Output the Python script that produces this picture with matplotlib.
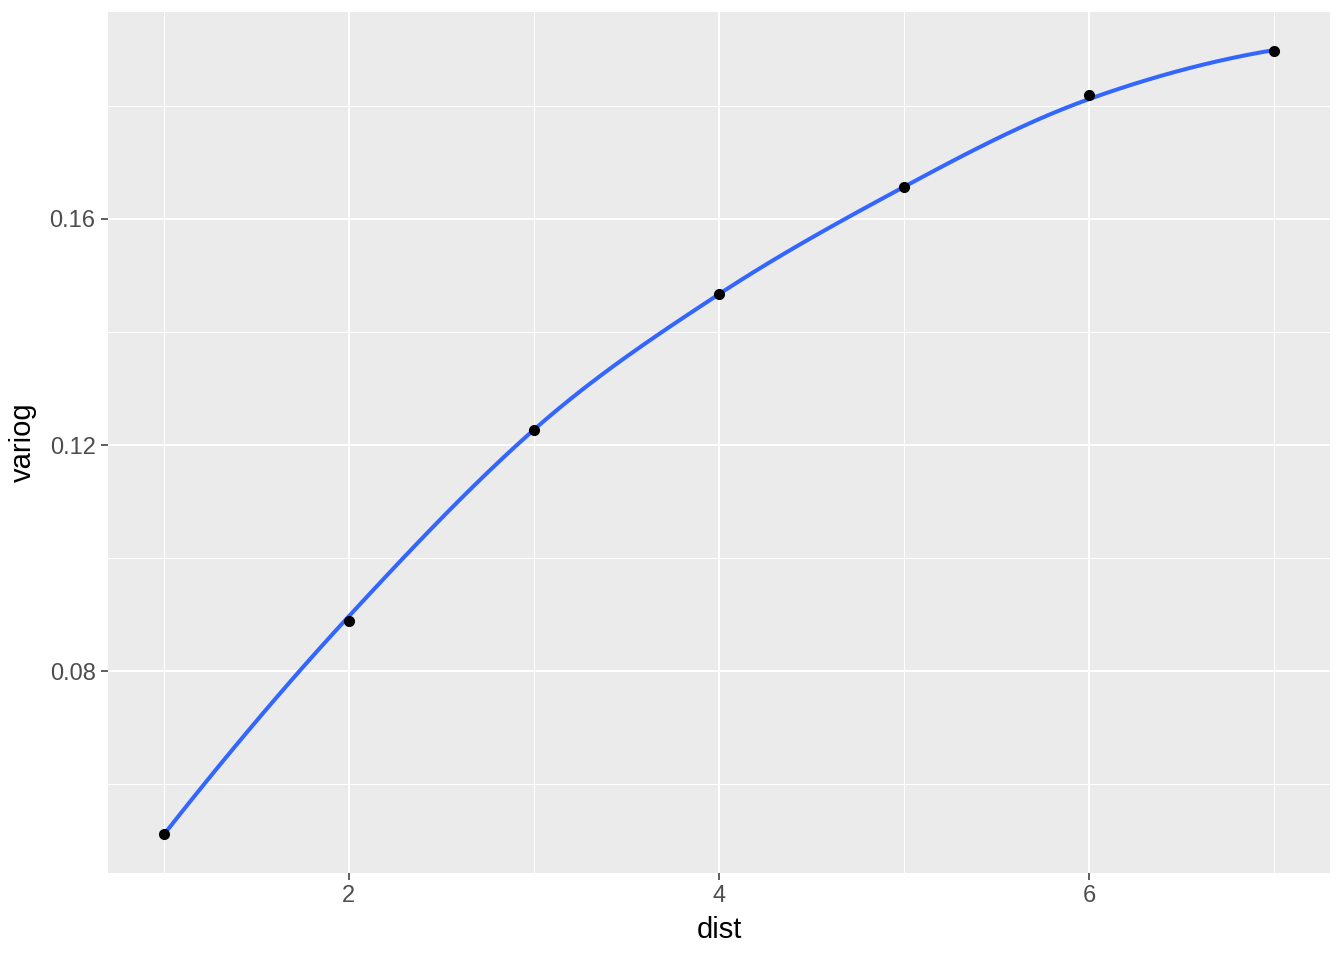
import matplotlib.pyplot as plt
import numpy as np

##### data
dist = np.array([1, 2, 3, 4, 5, 6, 7])
variog = np.array([0.0512, 0.0889, 0.1227, 0.1467, 0.1657, 0.1820, 0.1897])

x_major = [2, 4, 6]
x_minor = [1, 3, 5, 7]
y_major = [0.08, 0.12, 0.16]
y_minor = [0.06, 0.10, 0.14, 0.18]


##### loess smoother (degree 2, span 0.75, tricube weights), like geom_smooth
# local fits at the vertices, then cubic Hermite interpolation in between
def local_fit(x, y, x0, span=0.75):
    q = int(np.floor(len(x) * span))
    d = np.abs(x - x0)
    h = np.sort(d)[q - 1]
    w = np.clip(1 - (d / h) ** 3, 0, None) ** 3
    X = np.vstack([np.ones_like(x), x - x0, (x - x0) ** 2]).T
    W = np.diag(w)
    beta = np.linalg.solve(X.T @ W @ X, X.T @ W @ y)
    return beta[0], beta[1]

def loess(x, y, xs):
    vx = x.astype(float)
    fits = [local_fit(x.astype(float), y, v) for v in vx]
    vv = np.array([f[0] for f in fits])
    vd = np.array([f[1] for f in fits])
    out = []
    for t in xs:
        i = min(np.searchsorted(vx, t, side='right') - 1, len(vx) - 2)
        h = vx[i + 1] - vx[i]
        s = (t - vx[i]) / h
        h00 = 2*s**3 - 3*s**2 + 1
        h10 = s**3 - 2*s**2 + s
        h01 = -2*s**3 + 3*s**2
        h11 = s**3 - s**2
        out.append(h00*vv[i] + h10*h*vd[i] + h01*vv[i+1] + h11*h*vd[i+1])
    return np.array(out)

xs = np.linspace(dist.min(), dist.max(), 80)
ys = loess(dist, variog, xs)


##### plot
plt.rcParams['font.family'] = ['Liberation Sans', 'DejaVu Sans']
fig = plt.figure(figsize=[13.44, 9.6], dpi=100)
ax = fig.add_axes([108/1344, 1 - 873/960, (1330 - 108)/1344, (873 - 12)/960])
ax.set_facecolor('#EBEBEB')

ax.set_xticks(x_major)
ax.set_xticks(x_minor, minor=True)
ax.set_yticks(y_major)
ax.set_yticks(y_minor, minor=True)
ax.grid(which='major', color='white', linewidth=1.5)
ax.grid(which='minor', color='white', linewidth=0.75)
ax.set_axisbelow(True)
for s in ax.spines.values():
    s.set_visible(False)

ax.plot(xs, ys, color='#3366FF', linewidth=2.9, zorder=3)
ax.plot(dist, variog, 'o', color='black', markersize=7, zorder=4)

rx = dist.max() - dist.min()
ry = variog.max() - variog.min()
ax.set_xlim(dist.min() - 0.05 * rx, dist.max() + 0.05 * rx)
ax.set_ylim(variog.min() - 0.05 * ry, variog.max() + 0.05 * ry)

ax.tick_params(which='major', length=5, width=1.1, color='#333333',
               labelsize=17, labelcolor='#4D4D4D', pad=4)
ax.tick_params(which='minor', length=0)
ax.set_xlabel('dist', fontsize=21, labelpad=6)
ax.set_ylabel('variog', fontsize=21, labelpad=9)

plt.savefig('out.png', dpi=100)
